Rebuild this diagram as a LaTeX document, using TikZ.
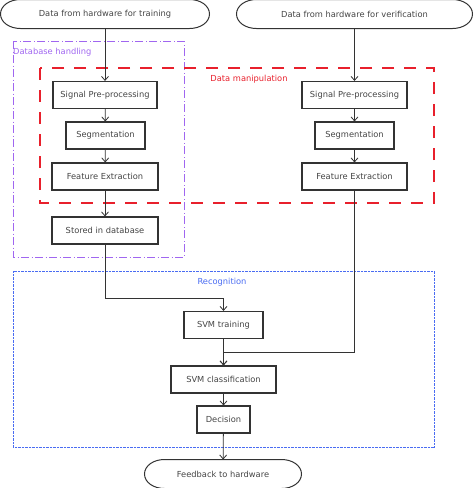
\documentclass[tikz,border=0pt]{standalone}
\usepackage{fontspec}
\setmainfont{DejaVu Sans}
\usetikzlibrary{arrows.meta}
\definecolor{linegray}{HTML}{333333}
\definecolor{textgray}{HTML}{444444}
\definecolor{dbpurple}{HTML}{A066F0}
\definecolor{dmred}{HTML}{E8202C}
\definecolor{recblue}{HTML}{4A6CF2}
\newcommand{\stadium}[1]{%
    \draw[linegray, line width=1pt] ([xshift=20pt]#1.north west) -- ([xshift=-20pt]#1.north east)
        .. controls ([xshift=-9pt]#1.north east) and ([yshift=8.3pt]#1.east) .. (#1.east)
        .. controls ([yshift=-8.3pt]#1.east) and ([xshift=-9pt]#1.south east) .. ([xshift=-20pt]#1.south east)
        -- ([xshift=20pt]#1.south west)
        .. controls ([xshift=9pt]#1.south west) and ([yshift=-8.3pt]#1.west) .. (#1.west)
        .. controls ([yshift=8.3pt]#1.west) and ([xshift=9pt]#1.north west) .. cycle;}
\begin{document}
\begin{tikzpicture}[x=1pt, y=-1pt, font=\fontsize{8.3}{10}\selectfont,
    box/.style={draw=linegray, line width=1.1pt, text=textgray, inner sep=0pt, minimum height=27pt},
    term/.style={text=textgray, inner sep=0pt, outer sep=0pt, minimum height=29pt},
    arr/.style={-{Straight Barb[length=4pt,width=7pt]}, draw=linegray, line width=0.8pt}]
    \useasboundingbox (0,0) rectangle (474,488);

    \draw[dbpurple, line width=1pt, dash pattern=on 8pt off 2.5pt on 1pt off 2.5pt] (13,41) rectangle (184,257);
    \draw[dmred, line width=1.4pt, dash pattern=on 12pt off 10pt] (40,68) rectangle (434,203);
    \draw[recblue, line width=1pt, dash pattern=on 0.7pt off 0.7pt] (13,271) rectangle (434,447);
    \node[text=dbpurple, anchor=west, inner sep=0pt] (dblabel) at (13,52) {Database handling};
    \node[text=dmred, inner sep=0pt] (dmlabel) at (249,79) {Data manipulation};
    \node[text=recblue, inner sep=0pt] (reclabel) at (222,282) {Recognition};

    \node[term, minimum width=209pt] (dataL) at (105,14) {Data from hardware for training};
    \node[term, minimum width=236pt] (dataR) at (354.5,14) {Data from hardware for verification};
    \node[box, minimum width=104pt] (sigL) at (105,95) {Signal Pre-processing};
    \node[box, minimum width=79pt] (segL) at (105.5,135.5) {Segmentation};
    \node[box, minimum width=106pt] (featL) at (105,176.5) {Feature Extraction};
    \node[box, minimum width=106pt] (storeL) at (105,230.5) {Stored in database};
    \node[box, minimum width=105pt] (sigR) at (354.5,95) {Signal Pre-processing};
    \node[box, minimum width=79pt] (segR) at (354.5,135.5) {Segmentation};
    \node[box, minimum width=105pt] (featR) at (354.5,176.5) {Feature Extraction};
    \node[box, minimum width=79pt] (svmT) at (223.5,325) {SVM training};
    \node[box, minimum width=105pt] (svmC) at (223.5,379.5) {SVM classification};
    \node[box, minimum width=53pt] (dec) at (223.5,419.5) {Decision};
    \node[term, minimum width=157pt] (feed) at (223,474) {Feedback to hardware};
    \stadium{dataL}
    \stadium{dataR}
    \stadium{feed}

    \coordinate (bend) at (223.5,298);
    \coordinate (merge) at (223.5,352);

    \draw[arr] (dataL) -- (sigL);
    \draw[arr] (sigL) -- (segL);
    \draw[arr] (segL) -- (featL);
    \draw[arr] (featL) -- (storeL);
    \draw[arr] (dataR) -- (sigR);
    \draw[arr] (sigR) -- (segR);
    \draw[arr] (segR) -- (featR);
    \draw[arr] (storeL) |- (bend) -- (svmT);
    \draw[arr] (featR) |- (merge) -- (svmC);
    \draw[arr] (svmT) -- (svmC);
    \draw[arr] (svmC) -- (dec);
    \draw[arr] (dec) -- (feed);
\end{tikzpicture}
\end{document}
